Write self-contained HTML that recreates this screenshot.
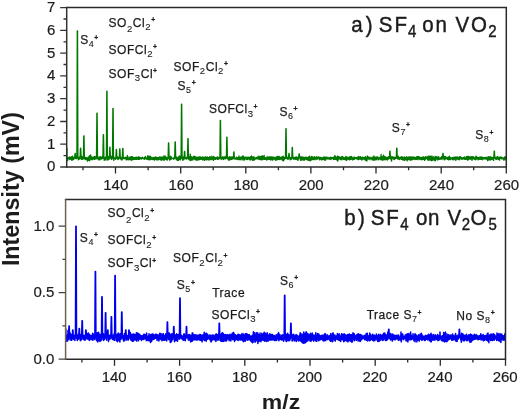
<!DOCTYPE html>
<html><head><meta charset="utf-8"><title>SF4 mass spectra</title>
<style>html,body{margin:0;padding:0;background:#fff;}svg{display:block;}text{font-family:"Liberation Sans", Arial, sans-serif;fill:#1c1c1c;}text.c{stroke:#1c1c1c;stroke-width:0.25px;}text.t{stroke:#1c1c1c;stroke-width:0.4px;}text.k{stroke:#1c1c1c;stroke-width:0.2px;}</style></head><body>
<svg width="520" height="411" viewBox="0 0 520 411">
<rect width="520" height="411" fill="#fff"/>
<defs><clipPath id="ca"><rect x="66.7" y="7.6" width="439.6" height="159.4"/></clipPath><clipPath id="cb"><rect x="65.6" y="199.6" width="439.9" height="159.6"/></clipPath></defs>
<polyline clip-path="url(#ca)" fill="none" stroke="#007800" stroke-width="1.25" stroke-linejoin="round" points="66.90,147.64 67.00,159.28 67.30,156.99 67.60,160.60 67.90,157.58 68.20,158.68 68.50,157.63 68.80,158.21 69.10,157.13 69.40,159.71 69.70,156.98 70.00,159.36 70.30,157.59 70.60,158.59 70.90,157.15 71.20,159.36 71.50,156.93 71.80,160.46 72.10,156.36 72.40,159.85 72.70,156.24 73.00,159.16 73.30,157.70 73.60,159.60 73.90,157.84 74.20,158.56 74.50,157.00 74.65,158.30 75.05,153.34 75.35,153.34 75.75,158.30 76.00,158.60 76.30,157.52 76.60,158.73 76.85,158.30 77.25,30.83 77.55,30.83 77.95,158.30 78.10,157.90 78.40,159.83 78.70,158.00 79.00,158.81 79.30,157.06 79.60,159.16 79.90,156.77 80.05,158.30 80.45,148.10 80.75,148.10 81.15,158.30 81.40,159.45 81.70,156.01 82.00,159.54 82.30,156.84 82.60,158.76 82.90,156.84 83.20,159.14 83.35,158.30 83.75,135.80 84.05,135.80 84.45,158.30 84.70,157.91 85.00,159.26 85.30,157.37 85.60,159.58 85.90,157.65 86.20,159.71 86.50,157.69 86.80,159.13 87.10,157.96 87.40,161.14 87.70,157.58 88.00,160.40 88.30,156.79 88.60,160.43 88.90,156.81 89.20,159.10 89.50,155.66 89.80,160.86 90.10,156.22 90.40,159.27 90.70,154.91 91.00,158.48 91.30,156.72 91.60,159.36 91.90,157.80 92.20,159.92 92.50,157.19 92.80,159.06 93.10,157.25 93.40,159.16 93.70,157.19 94.00,158.60 94.30,156.51 94.60,159.47 94.90,156.48 95.20,159.04 95.50,157.22 95.80,158.43 96.10,156.88 96.40,158.79 96.45,158.30 96.85,113.03 97.15,113.03 97.55,158.30 97.90,156.84 98.20,159.80 98.50,157.29 98.80,159.66 99.10,157.14 99.40,159.41 99.70,157.16 100.00,159.98 100.30,156.65 100.60,158.97 100.90,156.51 101.20,158.15 101.50,157.54 101.80,159.22 102.10,157.87 102.40,157.87 102.70,156.07 102.85,158.30 103.25,134.66 103.55,134.66 103.95,158.30 104.20,160.44 104.50,157.60 104.80,159.04 105.10,157.37 105.40,159.45 105.70,157.01 106.00,160.15 106.30,156.89 106.35,158.30 106.75,91.17 107.05,91.17 107.45,158.30 107.80,160.21 108.10,156.99 108.40,159.24 108.70,156.52 109.00,159.42 109.30,157.16 109.35,158.30 109.75,147.19 110.05,147.19 110.45,158.30 110.80,158.49 111.10,157.51 111.40,159.50 111.70,156.15 112.00,159.25 112.30,156.13 112.45,158.30 112.85,108.25 113.15,108.25 113.55,158.30 113.80,160.36 114.10,157.24 114.40,158.45 114.70,158.53 115.00,158.61 115.30,157.82 115.60,159.46 115.85,158.30 116.25,149.47 116.55,149.47 116.95,158.30 117.10,157.50 117.40,158.96 117.70,156.80 118.00,159.51 118.30,157.32 118.60,159.20 118.90,157.58 119.20,158.76 119.25,158.30 119.65,148.78 119.95,148.78 120.35,158.30 120.70,158.05 121.00,159.60 121.30,157.40 121.60,159.85 121.90,157.67 122.20,159.93 122.25,158.30 122.65,148.33 122.95,148.33 123.35,158.30 123.70,157.57 124.00,158.95 124.30,157.61 124.60,158.32 124.90,157.56 125.20,158.82 125.50,157.09 125.80,158.01 126.10,157.57 126.40,159.82 126.70,157.37 127.00,159.73 127.30,155.38 127.60,159.61 127.90,157.90 128.20,159.61 128.50,158.20 128.80,159.87 129.10,156.75 129.40,159.41 129.70,157.58 130.00,159.60 130.30,157.51 130.60,158.89 130.90,156.65 131.20,160.28 131.50,157.34 131.80,160.22 132.10,156.31 132.40,159.42 132.70,157.05 133.00,159.68 133.30,157.48 133.60,159.02 133.90,157.58 134.20,159.46 134.50,157.88 134.80,159.29 135.10,157.34 135.40,159.36 135.70,157.39 136.00,159.04 136.30,157.79 136.60,159.35 136.90,156.98 137.20,158.97 137.50,157.95 137.80,159.25 138.10,157.41 138.40,159.49 138.70,156.51 139.00,159.17 139.30,157.89 139.60,159.42 139.90,157.38 140.20,158.68 140.50,157.63 140.80,158.76 141.10,157.84 141.40,159.11 141.70,157.97 142.00,158.72 142.30,157.23 142.60,158.42 142.90,158.14 143.20,158.80 143.50,158.22 143.80,158.60 144.10,157.55 144.40,159.45 144.70,158.03 145.00,158.42 145.30,156.26 145.60,158.69 145.90,157.03 146.20,158.84 146.50,158.24 146.80,159.40 147.10,158.18 147.40,158.95 147.70,155.70 148.00,159.54 148.30,157.38 148.60,159.62 148.90,156.19 149.20,159.97 149.50,156.49 149.80,159.05 150.10,156.45 150.40,159.70 150.70,156.36 151.00,159.49 151.30,157.65 151.60,158.71 151.90,157.65 152.20,159.67 152.50,158.03 152.80,159.00 153.10,157.37 153.40,159.66 153.70,157.26 154.00,158.50 154.30,158.02 154.60,160.07 154.90,157.31 155.20,159.37 155.50,156.76 155.80,157.29 156.10,157.35 156.40,159.66 156.70,157.46 157.00,160.04 157.30,158.41 157.60,159.53 157.90,157.28 158.20,159.83 158.50,157.38 158.80,159.35 159.10,157.37 159.40,159.02 159.70,156.81 160.00,159.67 160.30,157.51 160.60,159.94 160.90,156.80 161.20,159.22 161.50,157.33 161.80,160.26 162.10,157.42 162.40,158.62 162.70,156.78 163.00,159.61 163.30,157.81 163.60,159.90 163.90,155.87 164.20,160.42 164.50,157.87 164.80,158.94 165.10,155.98 165.40,159.15 165.70,157.43 166.00,159.37 166.30,157.07 166.60,159.62 166.90,157.73 167.20,160.19 167.50,157.81 167.80,159.43 168.05,158.30 168.45,142.86 168.75,142.86 169.15,158.30 169.30,157.47 169.60,160.16 169.90,157.11 170.20,158.84 170.50,156.11 170.80,159.52 171.10,156.58 171.40,159.24 171.70,157.79 172.00,158.71 172.30,158.28 172.60,158.43 172.90,158.06 173.20,158.66 173.50,157.85 173.80,159.43 174.10,157.52 174.40,158.38 174.65,158.30 175.05,141.95 175.35,141.95 175.75,158.30 175.90,157.30 176.20,159.59 176.50,157.18 176.80,158.91 177.10,157.04 177.40,160.42 177.70,157.75 178.00,158.41 178.30,157.56 178.60,160.36 178.90,156.40 179.20,159.48 179.50,155.80 179.80,159.17 180.10,156.74 180.40,159.97 180.70,156.15 181.00,159.01 181.05,158.30 181.45,104.15 181.75,104.15 182.15,158.30 182.50,156.88 182.80,160.27 183.10,157.31 183.40,159.90 183.70,156.63 184.00,159.53 184.05,158.30 184.45,151.29 184.75,151.29 185.15,158.30 185.50,157.81 185.80,158.86 186.10,157.67 186.40,159.21 186.70,157.49 187.00,158.88 187.30,156.81 187.45,158.30 187.85,138.54 188.15,138.54 188.55,158.30 188.80,159.55 189.10,156.59 189.40,158.94 189.70,156.65 190.00,160.33 190.30,154.11 190.60,160.57 190.90,157.05 191.20,159.49 191.50,156.57 191.80,160.25 192.10,157.42 192.40,159.95 192.70,157.44 193.00,159.81 193.30,156.43 193.60,158.79 193.90,156.77 194.20,158.72 194.50,156.16 194.80,159.51 195.10,156.83 195.40,159.89 195.70,156.79 196.00,159.93 196.30,157.70 196.60,159.35 196.90,157.11 197.20,160.41 197.50,157.46 197.80,159.70 198.10,156.98 198.40,159.71 198.70,158.04 199.00,159.91 199.30,157.38 199.60,159.52 199.90,156.31 200.20,158.40 200.50,157.59 200.80,159.36 201.10,157.12 201.40,159.37 201.70,157.79 202.00,158.89 202.30,157.18 202.60,159.95 202.90,156.90 203.20,159.52 203.50,157.30 203.80,159.65 204.10,157.35 204.40,160.39 204.70,157.53 205.00,159.63 205.30,156.70 205.60,159.15 205.90,157.39 206.20,159.97 206.50,157.32 206.80,159.86 207.10,156.65 207.40,159.60 207.70,157.66 208.00,158.49 208.30,157.56 208.60,159.93 208.90,157.37 209.20,159.69 209.50,156.62 209.80,160.00 210.10,156.73 210.40,159.35 210.70,157.63 211.00,159.17 211.30,157.46 211.60,159.69 211.90,156.09 212.20,159.35 212.50,157.40 212.80,159.20 213.10,156.96 213.40,160.40 213.70,156.36 214.00,159.45 214.30,157.77 214.60,157.38 214.90,157.36 215.20,159.33 215.50,158.22 215.80,159.29 216.10,157.37 216.40,158.72 216.70,158.31 217.00,158.70 217.30,156.94 217.60,159.50 217.90,156.99 218.20,159.42 218.50,157.59 218.80,159.00 219.10,157.55 219.40,158.73 219.70,157.63 219.85,158.30 220.25,120.32 220.55,120.32 220.95,158.30 221.20,159.57 221.50,157.27 221.80,158.48 222.10,157.35 222.40,158.70 222.70,156.69 223.00,159.16 223.30,157.00 223.60,159.52 223.90,157.31 224.20,157.86 224.50,157.13 224.80,158.65 225.10,156.48 225.40,158.97 225.70,158.07 226.00,158.62 226.30,157.66 226.35,158.30 226.75,137.17 227.05,137.17 227.45,158.30 227.80,159.09 228.10,157.53 228.40,159.92 228.70,157.31 229.00,160.14 229.30,156.73 229.60,160.03 229.90,157.05 230.20,159.35 230.50,157.18 230.80,159.59 231.10,156.94 231.40,159.35 231.70,157.67 232.00,159.32 232.30,156.78 232.60,158.78 232.90,157.55 233.20,158.92 233.35,158.30 233.75,151.97 234.05,151.97 234.45,158.30 234.70,158.14 235.00,159.26 235.30,157.99 235.60,159.10 235.90,158.07 236.20,159.14 236.50,157.22 236.80,159.19 237.10,157.70 237.40,158.99 237.70,157.42 238.00,159.59 238.30,158.05 238.60,159.65 238.90,155.95 239.20,158.87 239.50,158.11 239.80,159.70 240.10,157.23 240.40,159.48 240.70,157.93 241.00,159.82 241.30,156.81 241.60,158.93 241.90,157.24 242.20,158.60 242.50,156.01 242.80,159.84 243.10,155.99 243.40,159.86 243.70,156.81 244.00,160.05 244.30,157.09 244.60,159.92 244.90,157.35 245.20,158.94 245.50,157.50 245.80,158.62 246.10,157.00 246.40,159.47 246.70,157.59 247.00,159.53 247.30,157.21 247.60,159.50 247.90,157.82 248.20,158.67 248.50,157.15 248.80,159.02 249.10,157.27 249.40,159.36 249.70,157.72 250.00,160.04 250.30,156.71 250.60,159.94 250.90,156.97 251.20,158.90 251.50,155.97 251.80,159.21 252.10,158.04 252.40,160.29 252.70,156.86 253.00,158.94 253.30,157.24 253.60,160.27 253.90,156.68 254.20,159.42 254.50,157.96 254.80,159.95 255.10,158.18 255.40,158.89 255.70,157.77 256.00,158.79 256.30,157.47 256.60,158.75 256.90,158.03 257.20,158.90 257.50,157.11 257.80,158.88 258.10,156.10 258.40,159.05 258.70,156.82 259.00,159.11 259.30,156.94 259.60,159.51 259.90,156.08 260.20,159.15 260.50,156.65 260.80,159.76 261.10,157.11 261.40,158.54 261.70,156.16 262.00,159.90 262.30,155.74 262.60,159.75 262.90,157.37 263.20,159.35 263.50,156.50 263.80,158.93 264.10,155.26 264.40,159.32 264.70,157.90 265.00,159.32 265.30,157.50 265.60,158.95 265.90,158.54 266.20,159.49 266.50,157.91 266.80,160.12 267.10,156.51 267.40,159.34 267.70,157.12 268.00,159.41 268.30,157.88 268.60,158.98 268.90,156.76 269.20,159.43 269.50,156.79 269.80,158.56 270.10,156.95 270.40,160.04 270.70,156.76 271.00,158.11 271.30,157.19 271.60,159.79 271.90,156.63 272.20,158.44 272.50,157.55 272.80,160.29 273.10,157.41 273.40,159.32 273.70,156.97 274.00,158.94 274.30,158.70 274.60,159.22 274.90,157.61 275.20,159.70 275.50,157.32 275.80,160.42 276.10,157.03 276.40,159.96 276.70,156.91 277.00,159.69 277.30,156.60 277.60,159.66 277.90,156.01 278.20,159.49 278.50,157.46 278.80,159.44 279.10,156.34 279.40,158.87 279.70,157.11 280.00,159.55 280.30,157.66 280.60,159.15 280.90,157.06 281.20,158.75 281.50,157.32 281.80,159.42 282.10,156.76 282.40,160.49 282.70,156.63 283.00,158.97 283.30,156.07 283.60,160.93 283.90,158.03 284.20,159.22 284.50,157.48 284.80,159.25 285.10,157.41 285.40,158.52 285.45,158.30 285.85,128.74 286.15,128.74 286.55,158.30 286.90,157.96 287.20,158.87 287.50,157.29 287.80,159.28 288.10,156.88 288.40,159.19 288.45,158.30 288.85,153.34 289.15,153.34 289.55,158.30 289.90,157.17 290.20,159.98 290.50,157.57 290.80,159.47 291.10,157.99 291.40,159.28 291.70,157.71 291.75,158.30 292.15,147.42 292.45,147.42 292.85,158.30 293.20,159.07 293.50,157.44 293.80,159.17 294.10,157.72 294.40,158.86 294.70,157.70 295.00,159.39 295.30,157.12 295.60,159.21 295.90,157.20 296.20,159.32 296.50,156.88 296.80,158.51 297.10,157.63 297.40,159.88 297.70,157.90 298.00,160.46 298.30,156.53 298.60,158.90 298.65,158.30 299.05,153.79 299.35,153.79 299.75,158.30 300.10,156.44 300.40,160.12 300.70,157.71 301.00,160.36 301.30,157.45 301.60,158.73 301.90,156.28 302.20,159.79 302.50,157.46 302.80,159.89 303.10,158.10 303.40,158.95 303.70,157.17 304.00,160.43 304.30,158.15 304.60,160.00 304.90,157.49 305.20,158.35 305.50,157.26 305.80,159.04 306.10,157.69 306.40,159.36 306.70,157.02 307.00,159.91 307.30,157.70 307.60,159.95 307.90,157.40 308.20,160.10 308.50,156.99 308.80,160.42 309.10,157.77 309.40,159.10 309.70,156.03 310.00,160.81 310.30,157.57 310.60,160.69 310.90,157.77 311.20,159.56 311.50,156.44 311.80,159.90 312.10,156.96 312.40,159.37 312.70,156.95 313.00,159.12 313.30,157.64 313.60,159.65 313.90,157.16 314.20,159.69 314.50,156.68 314.80,159.14 315.10,157.18 315.40,158.95 315.70,157.78 316.00,159.77 316.30,157.29 316.60,159.12 316.90,156.34 317.20,158.93 317.50,158.02 317.80,159.07 318.10,157.30 318.40,158.75 318.70,156.98 319.00,158.62 319.30,157.24 319.60,159.99 319.90,157.27 320.20,159.29 320.50,157.33 320.80,159.07 321.10,157.29 321.40,159.76 321.70,157.77 322.00,160.03 322.30,158.01 322.60,158.86 322.90,157.46 323.20,159.34 323.50,157.67 323.80,158.99 324.10,156.65 324.40,160.19 324.70,157.57 325.00,159.92 325.30,157.28 325.60,160.12 325.90,157.10 326.20,159.03 326.50,157.82 326.80,158.54 327.10,156.99 327.40,158.81 327.70,157.81 328.00,159.13 328.30,157.93 328.60,158.84 328.90,157.42 329.20,158.18 329.50,157.71 329.80,159.27 330.10,158.33 330.40,158.67 330.70,157.02 331.00,159.63 331.30,158.51 331.60,158.60 331.90,157.38 332.20,158.43 332.50,157.84 332.80,158.49 333.10,157.40 333.40,159.68 333.70,157.65 334.00,159.00 334.30,156.37 334.60,159.48 334.90,155.49 335.20,158.63 335.50,156.63 335.80,159.38 336.10,157.40 336.40,159.90 336.70,158.11 337.00,159.02 337.30,156.19 337.60,161.17 337.90,156.24 338.20,160.06 338.50,156.92 338.80,158.82 339.10,156.70 339.40,158.32 339.70,158.05 340.00,159.27 340.30,157.12 340.60,159.69 340.90,157.98 341.20,158.62 341.50,156.97 341.80,159.98 342.10,156.54 342.40,158.98 342.70,156.27 343.00,158.95 343.30,157.28 343.60,159.42 343.90,158.19 344.20,159.49 344.50,157.62 344.80,159.42 345.10,157.53 345.40,159.80 345.70,156.33 346.00,159.75 346.30,157.55 346.60,160.48 346.90,156.93 347.20,158.85 347.50,157.46 347.80,159.26 348.10,157.47 348.40,159.22 348.70,157.47 349.00,159.73 349.30,157.31 349.60,159.92 349.90,156.55 350.20,158.97 350.50,157.56 350.80,159.46 351.10,156.40 351.40,159.17 351.70,156.59 352.00,159.10 352.30,157.41 352.60,160.01 352.90,157.97 353.20,159.62 353.50,158.00 353.80,159.45 354.10,156.79 354.40,159.44 354.70,158.13 355.00,158.98 355.30,157.50 355.60,158.24 355.90,157.60 356.20,158.50 356.50,157.54 356.80,158.93 357.10,157.36 357.40,159.26 357.70,157.32 358.00,159.03 358.30,156.32 358.60,159.75 358.90,157.24 359.20,159.28 359.50,156.79 359.80,158.86 360.10,157.11 360.40,159.01 360.70,156.54 361.00,159.38 361.30,157.54 361.60,160.01 361.90,158.24 362.20,159.87 362.50,157.00 362.80,158.86 363.10,157.57 363.40,159.10 363.70,157.48 364.00,157.63 364.30,157.67 364.60,159.38 364.90,157.06 365.20,160.20 365.50,156.60 365.80,159.57 366.10,157.72 366.40,160.95 366.70,158.09 367.00,160.76 367.30,155.80 367.60,158.35 367.90,156.65 368.20,158.81 368.50,157.05 368.80,159.16 369.10,157.93 369.40,158.57 369.70,157.15 370.00,159.79 370.30,157.71 370.60,158.03 370.90,158.00 371.20,158.33 371.50,157.79 371.80,159.63 372.10,157.06 372.40,159.61 372.70,157.38 373.00,160.30 373.30,156.92 373.60,159.45 373.90,155.87 374.20,160.18 374.50,157.62 374.80,159.85 375.10,157.18 375.40,159.88 375.70,157.32 376.00,158.86 376.30,156.78 376.60,159.79 376.90,158.03 377.20,158.69 377.50,156.94 377.80,158.80 378.10,157.22 378.40,159.82 378.70,158.59 379.00,158.66 379.30,157.80 379.60,158.89 379.90,157.09 380.20,159.63 380.50,157.65 380.80,158.90 381.10,154.43 381.40,159.98 381.70,156.96 382.00,158.97 382.30,157.24 382.60,160.18 382.90,156.01 383.20,159.85 383.50,155.05 383.80,159.77 384.10,157.48 384.40,159.17 384.70,156.49 385.00,159.95 385.30,157.42 385.60,158.33 385.90,157.00 386.20,159.43 386.50,157.33 386.80,159.65 387.10,157.57 387.40,160.05 387.70,157.29 388.00,159.34 388.30,156.62 388.60,158.87 388.90,157.72 389.20,158.64 389.35,158.30 389.75,151.06 390.05,151.06 390.45,158.30 390.70,156.69 391.00,159.93 391.30,157.84 391.60,161.22 391.90,156.42 392.20,158.66 392.50,157.17 392.80,158.72 393.10,156.82 393.40,158.61 393.70,157.53 394.00,159.34 394.30,157.47 394.60,159.61 394.90,157.21 395.20,158.61 395.50,157.52 395.80,158.39 396.10,157.68 396.25,158.30 396.65,148.10 396.95,148.10 397.35,158.30 397.60,158.92 397.90,156.63 398.20,159.04 398.50,156.13 398.80,158.74 399.10,157.91 399.40,159.59 399.70,157.61 400.00,158.73 400.30,157.29 400.60,158.65 400.90,157.25 401.20,159.45 401.50,156.73 401.80,157.88 402.10,157.09 402.40,159.83 402.70,156.87 403.00,159.70 403.30,157.96 403.60,159.94 403.90,157.33 404.20,160.52 404.50,156.85 404.80,160.20 405.10,157.58 405.40,159.75 405.70,157.39 406.00,159.33 406.30,157.13 406.60,160.05 406.90,156.66 407.20,160.82 407.50,157.57 407.80,159.11 408.10,157.52 408.40,159.73 408.70,156.85 409.00,159.44 409.30,156.96 409.60,159.78 409.90,157.39 410.20,159.38 410.50,156.95 410.80,160.42 411.10,156.76 411.40,158.51 411.70,157.20 412.00,159.74 412.30,157.35 412.60,159.58 412.90,156.86 413.20,159.09 413.50,157.75 413.80,159.14 414.10,156.88 414.40,159.11 414.70,157.73 415.00,159.66 415.30,157.50 415.60,159.24 415.90,158.00 416.20,159.35 416.50,156.97 416.80,158.90 417.10,156.62 417.40,159.57 417.70,156.97 418.00,158.91 418.30,156.62 418.60,158.98 418.90,156.73 419.20,159.56 419.50,157.01 419.80,158.69 420.10,157.34 420.40,159.08 420.70,157.81 421.00,159.55 421.30,157.32 421.60,159.39 421.90,158.08 422.20,159.85 422.50,157.14 422.80,158.78 423.10,156.95 423.40,159.41 423.70,156.90 424.00,158.86 424.30,158.00 424.60,160.36 424.90,157.36 425.20,159.44 425.50,156.70 425.80,158.78 426.10,156.57 426.40,158.67 426.70,157.71 427.00,158.76 427.30,157.14 427.60,159.60 427.90,156.31 428.20,160.42 428.50,156.18 428.80,157.34 429.10,157.65 429.40,159.57 429.70,156.16 430.00,160.24 430.30,158.23 430.60,160.13 430.90,156.17 431.20,160.54 431.50,156.18 431.80,160.55 432.10,156.07 432.40,159.61 432.70,157.80 433.00,160.26 433.30,157.60 433.60,159.13 433.90,156.44 434.20,159.67 434.50,157.27 434.80,160.59 435.10,157.54 435.40,160.77 435.70,156.34 436.00,159.59 436.30,157.21 436.60,159.00 436.90,156.61 437.20,158.83 437.50,157.95 437.80,160.23 438.10,157.18 438.40,159.39 438.70,156.60 439.00,158.56 439.30,158.09 439.60,159.33 439.90,158.04 440.20,159.00 440.50,157.57 440.80,159.19 441.10,157.63 441.40,158.51 441.70,156.31 442.00,159.56 442.30,158.10 442.45,158.30 442.85,153.34 443.15,153.34 443.55,158.30 443.80,159.17 444.10,156.74 444.40,159.97 444.70,156.30 445.00,159.64 445.30,157.71 445.60,158.57 445.90,156.56 446.20,158.20 446.50,158.55 446.80,158.24 447.10,157.76 447.40,159.48 447.70,157.45 448.00,159.29 448.30,156.77 448.60,159.82 448.90,157.73 449.20,159.51 449.50,156.23 449.80,159.34 450.10,157.71 450.40,159.67 450.70,157.52 451.00,158.65 451.30,157.95 451.60,158.11 451.90,157.88 452.20,159.72 452.50,157.55 452.80,158.84 453.10,157.36 453.40,159.89 453.70,157.44 454.00,159.56 454.30,157.76 454.60,159.20 454.90,156.79 455.20,158.31 455.50,157.13 455.80,160.32 456.10,157.45 456.40,158.92 456.70,157.07 457.00,159.14 457.30,156.97 457.60,158.89 457.90,157.33 458.20,159.56 458.50,157.32 458.80,158.92 459.10,157.14 459.40,159.78 459.70,156.66 460.00,158.53 460.30,156.72 460.60,158.43 460.90,157.53 461.20,159.32 461.50,157.31 461.80,159.08 462.10,158.02 462.40,159.19 462.70,157.83 463.00,159.02 463.30,157.36 463.60,158.44 463.90,157.93 464.20,159.07 464.50,156.99 464.80,159.34 465.10,157.89 465.40,159.14 465.70,157.55 466.00,159.49 466.30,156.51 466.60,159.18 466.90,156.55 467.20,159.34 467.50,156.56 467.80,160.26 468.10,156.13 468.40,159.71 468.70,156.71 469.00,159.08 469.30,157.06 469.60,159.06 469.90,156.88 470.20,158.27 470.50,156.89 470.80,159.26 471.10,157.03 471.40,158.48 471.70,156.55 472.00,160.33 472.30,157.24 472.60,159.09 472.90,156.67 473.20,158.48 473.50,156.69 473.80,158.82 474.10,157.26 474.40,159.28 474.70,158.37 475.00,158.90 475.30,157.59 475.60,159.98 475.90,156.21 476.20,159.10 476.50,156.42 476.80,158.94 477.10,157.06 477.40,158.68 477.70,157.53 478.00,159.88 478.30,157.40 478.60,158.31 478.90,157.82 479.20,159.43 479.50,157.10 479.80,159.05 480.10,157.22 480.40,159.21 480.70,156.79 481.00,159.31 481.30,157.48 481.60,159.37 481.90,156.77 482.20,159.81 482.50,157.31 482.80,158.79 483.10,158.17 483.40,158.62 483.70,157.50 484.00,159.10 484.30,157.91 484.60,158.62 484.90,157.42 485.20,158.76 485.50,158.03 485.80,159.07 486.10,157.08 486.40,158.99 486.70,157.95 487.00,159.35 487.30,157.90 487.60,160.72 487.90,156.79 488.20,160.16 488.50,156.65 488.80,159.75 489.10,158.00 489.40,159.94 489.70,156.95 490.00,159.52 490.30,156.66 490.60,160.01 490.90,157.80 491.20,159.56 491.50,157.15 491.80,159.27 492.10,157.28 492.40,158.88 492.70,157.55 493.00,159.68 493.30,157.25 493.60,160.40 493.75,158.30 494.15,151.06 494.45,151.06 494.85,158.30 495.10,157.08 495.40,158.67 495.70,157.50 496.00,159.59 496.30,158.37 496.60,159.24 496.90,156.77 497.20,158.87 497.50,156.33 497.80,159.04 498.10,157.45 498.40,159.54 498.70,157.43 499.00,159.32 499.30,157.15 499.60,160.11 499.90,157.29 500.20,158.76 500.50,156.80 500.80,158.45 501.10,158.02 501.40,157.92 501.70,157.16 502.00,159.15 502.30,157.57 502.60,158.64 502.90,158.13 503.20,158.89 503.50,157.94 503.80,160.07 504.10,157.65 504.40,159.92 504.70,156.87 505.00,158.88 505.30,156.72 505.60,159.03 505.90,157.93 506.20,160.21 506.50,157.96"/>
<polyline clip-path="url(#cb)" fill="none" stroke="#0000f0" stroke-width="1.5" stroke-linejoin="round" points="65.80,328.61 65.90,338.77 66.20,335.11 66.50,341.18 66.80,336.50 67.10,340.27 67.40,334.90 67.70,340.88 68.00,330.47 68.30,339.50 68.55,337.50 68.95,325.95 69.25,325.95 69.65,337.50 69.80,335.11 70.10,339.87 70.40,333.29 70.70,339.25 71.00,334.72 71.30,340.34 71.60,335.10 71.90,339.88 72.20,336.06 72.25,337.50 72.65,329.94 72.95,329.94 73.35,337.50 73.70,339.41 74.00,336.09 74.30,338.55 74.60,335.23 74.90,340.39 75.20,334.90 75.45,337.50 75.85,226.20 76.15,226.20 76.55,337.50 76.70,338.32 77.00,335.40 77.30,340.51 77.60,336.01 77.90,339.21 78.20,334.26 78.50,339.23 78.75,337.50 79.15,328.61 79.45,328.61 79.85,337.50 80.00,334.76 80.30,340.77 80.60,334.72 80.90,340.31 81.20,335.06 81.50,339.48 81.65,337.50 82.05,320.63 82.35,320.63 82.75,337.50 83.00,335.33 83.30,339.41 83.60,335.38 83.90,339.40 84.20,335.62 84.50,340.02 84.80,335.59 85.10,340.15 85.35,337.50 85.75,329.94 86.05,329.94 86.45,337.50 86.60,334.50 86.90,338.97 87.20,333.56 87.50,339.01 87.80,334.30 88.10,339.30 88.40,332.92 88.70,339.31 89.00,335.86 89.30,340.45 89.60,334.30 89.90,338.47 90.20,335.58 90.50,339.49 90.80,336.00 91.10,339.00 91.40,335.41 91.70,338.78 92.00,336.76 92.30,340.10 92.60,333.21 92.90,340.18 93.20,333.73 93.50,338.84 93.80,334.38 94.10,338.36 94.40,335.90 94.70,339.38 94.85,337.50 95.25,271.42 95.55,271.42 95.95,337.50 96.20,336.07 96.50,340.62 96.80,335.26 97.10,340.75 97.40,332.79 97.70,342.03 98.00,335.39 98.30,340.06 98.60,332.18 98.90,340.79 99.20,336.44 99.50,340.86 99.80,334.29 100.10,341.38 100.40,335.98 100.70,339.38 101.00,334.30 101.30,340.33 101.45,337.50 101.85,296.69 102.15,296.69 102.55,337.50 102.80,334.02 103.10,339.75 103.40,333.66 103.70,340.47 104.00,334.49 104.30,339.47 104.60,335.13 104.90,339.01 105.05,337.50 105.45,312.65 105.75,312.65 106.15,337.50 106.40,333.36 106.70,340.18 107.00,336.13 107.25,337.50 107.65,329.94 107.95,329.94 108.35,337.50 108.50,341.40 108.80,335.72 109.10,339.79 109.40,335.30 109.70,339.22 110.00,335.80 110.30,338.66 110.60,334.82 110.85,337.50 111.25,316.64 111.55,316.64 111.95,337.50 112.10,339.01 112.40,336.55 112.70,339.52 113.00,335.20 113.30,339.79 113.60,335.94 113.90,338.45 114.20,333.48 114.50,340.37 114.55,337.50 114.95,275.41 115.25,275.41 115.65,337.50 116.00,335.02 116.30,340.58 116.60,336.26 116.90,341.19 117.20,334.18 117.50,341.68 117.80,333.78 118.10,339.75 118.40,333.11 118.70,340.33 119.00,334.06 119.30,340.98 119.60,336.19 119.90,341.94 120.20,333.68 120.50,339.32 120.80,334.91 121.10,339.29 121.25,337.50 121.65,311.99 121.95,311.99 122.35,337.50 122.60,335.30 122.90,338.84 123.20,336.45 123.50,340.95 123.80,335.50 124.10,340.37 124.40,333.61 124.70,340.78 125.00,336.61 125.25,337.50 125.65,329.94 125.95,329.94 126.35,337.50 126.50,340.12 126.80,335.48 127.10,339.17 127.40,335.50 127.70,337.11 128.00,335.78 128.30,340.10 128.45,337.50 128.85,329.94 129.15,329.94 129.55,337.50 129.80,334.84 130.10,338.79 130.40,332.50 130.70,339.79 131.00,335.26 131.30,340.49 131.60,334.44 131.90,339.82 132.20,335.82 132.50,341.35 132.80,334.35 133.10,338.76 133.40,333.94 133.70,340.93 134.00,334.69 134.30,338.66 134.60,334.22 134.90,339.62 135.20,334.86 135.50,339.98 135.80,336.51 136.10,339.07 136.40,332.80 136.70,341.11 137.00,335.03 137.30,339.59 137.60,333.04 137.90,339.50 138.20,335.08 138.50,340.86 138.80,333.55 139.10,339.23 139.40,334.92 139.70,338.79 140.00,334.63 140.30,338.88 140.60,335.84 140.90,339.36 141.20,335.89 141.50,340.57 141.80,335.87 142.10,339.55 142.40,335.79 142.70,339.37 143.00,335.72 143.30,339.50 143.60,334.42 143.90,338.47 144.20,334.17 144.50,339.03 144.80,336.61 145.10,338.76 145.40,334.64 145.70,338.44 146.00,336.22 146.30,340.62 146.60,333.06 146.90,338.80 147.20,336.17 147.50,340.35 147.80,336.37 148.10,340.75 148.40,336.15 148.70,340.08 149.00,333.72 149.30,340.72 149.60,336.30 149.90,340.17 150.20,334.90 150.50,342.55 150.80,334.65 151.10,341.61 151.40,334.31 151.70,341.33 152.00,335.90 152.30,339.15 152.60,333.88 152.90,339.60 153.20,334.23 153.50,339.20 153.80,335.39 154.10,339.30 154.40,335.16 154.70,338.18 155.00,334.54 155.30,338.19 155.60,334.20 155.90,338.22 156.20,334.19 156.50,337.03 156.80,336.33 157.10,340.48 157.40,334.99 157.70,338.93 158.00,334.43 158.30,339.73 158.60,335.39 158.90,341.06 159.20,336.37 159.50,338.88 159.80,333.37 160.10,338.91 160.40,334.25 160.70,339.31 161.00,333.50 161.30,339.72 161.60,334.88 161.90,340.68 162.20,335.01 162.50,340.15 162.80,334.02 163.10,338.95 163.40,333.87 163.70,340.31 164.00,335.94 164.30,339.58 164.60,335.59 164.90,340.35 165.20,335.18 165.50,339.34 165.80,333.82 166.10,339.16 166.40,334.47 166.70,340.98 166.85,337.50 167.25,321.96 167.55,321.96 167.95,337.50 168.20,335.70 168.50,339.58 168.80,333.31 169.10,339.30 169.40,333.11 169.70,339.89 170.00,334.72 170.30,342.48 170.60,334.62 170.90,339.76 171.20,334.46 171.50,341.68 171.80,333.67 172.10,339.57 172.40,334.46 172.70,339.64 173.00,333.72 173.25,337.50 173.65,326.62 173.95,326.62 174.35,337.50 174.50,341.71 174.80,335.32 175.10,340.43 175.40,335.90 175.70,340.47 176.00,334.46 176.30,340.46 176.60,333.83 176.90,337.07 177.20,336.52 177.50,341.25 177.80,334.68 178.10,338.59 178.40,334.58 178.70,338.63 179.00,335.03 179.30,339.29 179.45,337.50 179.85,298.02 180.15,298.02 180.55,337.50 180.80,335.57 181.10,338.65 181.40,335.19 181.70,338.81 182.00,335.99 182.30,338.71 182.60,336.63 182.90,339.99 183.20,335.79 183.50,340.16 183.80,334.11 184.10,338.91 184.40,334.11 184.70,340.05 185.00,335.36 185.30,340.77 185.60,335.62 185.90,338.36 185.95,337.50 186.35,326.62 186.65,326.62 187.05,337.50 187.40,334.96 187.70,338.23 188.00,336.02 188.30,339.94 188.60,334.74 188.90,339.95 189.20,335.78 189.50,338.75 189.80,334.38 190.10,340.48 190.40,335.87 190.70,341.98 191.00,336.42 191.30,339.13 191.60,335.18 191.90,341.26 192.20,332.97 192.50,340.91 192.80,332.97 193.10,340.03 193.40,336.11 193.70,339.73 194.00,334.66 194.30,339.26 194.60,336.27 194.90,340.01 195.20,334.65 195.50,339.64 195.80,336.50 196.10,339.06 196.40,335.11 196.70,339.91 197.00,336.45 197.30,340.09 197.60,335.28 197.90,338.34 198.20,335.62 198.50,339.00 198.80,335.21 199.10,340.06 199.40,334.44 199.70,339.38 200.00,334.73 200.30,340.27 200.60,334.53 200.90,337.11 201.20,335.23 201.50,340.72 201.80,335.25 202.10,341.85 202.40,335.82 202.70,340.01 203.00,334.77 203.30,338.36 203.60,334.61 203.90,339.69 204.20,332.18 204.50,340.50 204.80,333.43 205.10,340.40 205.40,333.60 205.70,339.57 206.00,335.79 206.30,341.12 206.60,333.32 206.90,338.48 207.20,333.97 207.50,339.34 207.80,336.30 208.10,337.99 208.40,335.94 208.70,338.85 209.00,334.76 209.30,338.73 209.60,335.71 209.90,339.41 210.20,336.85 210.50,340.98 210.80,335.04 211.10,342.06 211.40,335.94 211.70,340.87 212.00,335.45 212.30,338.84 212.60,335.05 212.90,339.76 213.20,335.04 213.50,339.47 213.80,336.68 214.10,339.70 214.40,335.90 214.70,338.61 215.00,334.89 215.30,340.11 215.60,334.60 215.90,341.42 216.20,333.80 216.50,339.68 216.80,334.47 217.10,338.91 217.40,334.59 217.70,340.13 218.00,335.78 218.30,340.06 218.60,335.81 218.75,337.50 219.15,323.29 219.45,323.29 219.85,337.50 220.10,340.48 220.40,337.46 220.70,340.88 221.00,334.78 221.30,341.13 221.60,333.50 221.90,341.27 222.20,332.73 222.50,339.91 222.80,332.93 223.10,341.58 223.40,333.83 223.70,341.37 224.00,336.34 224.30,340.79 224.60,334.70 224.90,339.37 225.20,335.07 225.50,340.52 225.80,334.44 226.10,341.29 226.40,336.20 226.70,340.54 227.00,334.95 227.30,337.65 227.60,334.70 227.90,338.94 228.20,335.68 228.50,338.89 228.80,334.92 229.10,340.77 229.40,334.80 229.70,338.89 230.00,334.27 230.30,340.01 230.60,335.80 230.90,341.05 231.20,334.87 231.50,338.31 231.80,334.07 232.10,338.19 232.40,332.99 232.70,339.63 233.00,334.55 233.30,339.19 233.60,332.56 233.90,338.51 234.20,333.69 234.50,341.49 234.80,334.65 235.10,340.28 235.40,334.83 235.70,339.93 236.00,335.62 236.30,339.17 236.60,335.66 236.90,338.83 237.20,335.18 237.50,339.99 237.80,334.56 238.10,340.38 238.40,334.20 238.70,338.70 239.00,336.31 239.30,339.74 239.60,334.66 239.90,339.18 240.20,335.48 240.50,339.97 240.80,335.10 241.10,339.62 241.40,334.93 241.70,339.93 242.00,333.62 242.30,340.01 242.60,334.88 242.90,340.96 243.20,334.34 243.50,341.71 243.80,333.89 244.10,340.78 244.40,335.27 244.70,340.13 245.00,335.24 245.30,341.33 245.60,333.69 245.90,340.37 246.20,335.91 246.50,338.84 246.80,333.47 247.10,338.57 247.40,335.00 247.70,340.24 248.00,334.66 248.30,339.69 248.60,334.73 248.90,336.59 249.20,334.61 249.50,339.61 249.80,336.94 250.10,340.29 250.40,335.92 250.70,341.06 251.00,336.82 251.30,341.55 251.60,335.93 251.90,342.12 252.20,335.25 252.50,342.68 252.80,335.28 253.10,342.43 253.40,331.80 253.70,339.47 254.00,333.86 254.30,338.73 254.60,332.87 254.90,341.90 255.20,335.70 255.50,341.99 255.80,334.66 256.10,339.77 256.40,332.69 256.70,340.44 257.00,335.46 257.30,339.95 257.60,332.79 257.90,343.48 258.20,334.72 258.50,340.50 258.80,334.56 259.10,341.41 259.40,336.39 259.70,340.79 260.00,333.04 260.30,339.83 260.60,334.96 260.90,341.76 261.20,334.91 261.50,339.79 261.80,333.30 262.10,340.17 262.40,334.18 262.70,339.97 263.00,333.93 263.30,339.57 263.60,333.13 263.90,340.35 264.20,332.21 264.50,341.26 264.80,333.09 265.10,340.30 265.40,333.37 265.70,339.82 266.00,333.65 266.30,341.38 266.60,335.63 266.90,340.95 267.20,332.83 267.50,339.70 267.80,334.83 268.10,341.09 268.40,335.17 268.70,338.66 269.00,334.93 269.30,339.77 269.60,333.85 269.90,340.31 270.20,334.66 270.50,339.92 270.80,334.30 271.10,340.05 271.40,336.26 271.70,339.43 272.00,334.44 272.30,340.03 272.60,334.47 272.90,338.74 273.20,335.44 273.50,339.69 273.80,337.58 274.10,340.07 274.40,335.42 274.70,340.40 275.00,336.36 275.30,340.57 275.60,336.11 275.90,338.75 276.20,334.77 276.50,340.51 276.80,336.17 277.10,338.55 277.40,334.91 277.70,338.83 278.00,333.57 278.30,339.85 278.60,332.47 278.90,340.71 279.20,334.61 279.50,339.54 279.80,334.39 280.10,339.14 280.40,335.95 280.70,338.58 281.00,336.93 281.30,339.91 281.60,335.29 281.90,339.72 282.20,337.07 282.50,339.90 282.80,334.77 283.10,339.45 283.40,335.19 283.70,341.32 284.00,336.26 284.15,337.50 284.55,295.36 284.85,295.36 285.25,337.50 285.50,339.94 285.80,333.88 286.10,341.22 286.40,334.50 286.70,341.55 287.00,334.82 287.30,340.10 287.60,333.33 287.90,339.51 288.20,334.33 288.50,340.84 288.80,335.62 289.10,339.01 289.40,335.02 289.70,340.61 290.00,336.52 290.30,338.94 290.35,337.50 290.75,323.29 291.05,323.29 291.45,337.50 291.80,334.20 292.10,341.05 292.40,334.79 292.70,340.78 293.00,336.06 293.30,339.18 293.60,334.19 293.90,339.34 294.20,335.36 294.50,340.91 294.80,335.98 295.10,339.11 295.40,335.82 295.70,340.02 296.00,334.62 296.30,341.56 296.60,334.94 296.90,339.49 297.20,335.35 297.50,338.56 297.80,336.23 298.10,340.60 298.40,336.20 298.70,340.93 299.00,335.96 299.30,340.54 299.60,335.12 299.90,340.52 300.20,332.64 300.50,339.90 300.80,333.53 301.10,341.58 301.40,334.10 301.70,341.72 302.00,334.68 302.30,342.72 302.60,334.80 302.90,340.08 303.20,333.71 303.50,343.29 303.80,331.98 304.10,341.47 304.40,334.64 304.70,342.89 305.00,333.63 305.30,342.72 305.60,332.79 305.90,341.78 306.20,331.82 306.50,341.71 306.80,332.85 307.10,340.92 307.40,335.97 307.70,340.90 308.00,333.72 308.30,339.87 308.60,336.05 308.90,339.73 309.20,334.65 309.50,338.84 309.80,336.62 310.10,341.13 310.40,333.23 310.70,340.80 311.00,334.24 311.30,340.99 311.60,335.64 311.90,340.03 312.20,332.90 312.50,338.97 312.80,336.14 313.10,340.00 313.40,334.95 313.70,341.24 314.00,334.91 314.30,339.46 314.60,335.53 314.90,338.95 315.20,336.35 315.50,340.73 315.80,332.64 316.10,339.15 316.40,336.01 316.70,341.37 317.00,335.49 317.30,338.91 317.60,333.57 317.90,339.19 318.20,335.63 318.50,340.74 318.80,334.08 319.10,340.43 319.40,334.95 319.70,338.66 320.00,336.87 320.30,339.64 320.60,335.81 320.90,339.45 321.20,336.38 321.50,339.12 321.80,335.30 322.10,339.46 322.40,336.01 322.70,340.12 323.00,335.14 323.30,340.92 323.60,335.24 323.90,338.95 324.20,334.55 324.50,340.64 324.80,333.77 325.10,339.10 325.40,333.82 325.70,340.47 326.00,335.76 326.30,339.59 326.60,335.82 326.90,338.61 327.20,334.87 327.50,339.39 327.80,335.31 328.10,339.38 328.40,336.45 328.70,338.15 329.00,336.29 329.30,338.67 329.60,335.47 329.90,340.53 330.20,335.76 330.50,341.36 330.80,333.40 331.10,340.75 331.40,336.54 331.70,339.35 332.00,335.22 332.30,341.71 332.60,333.27 332.90,341.32 333.20,332.88 333.50,339.10 333.80,334.65 334.10,338.42 334.40,335.58 334.70,340.18 335.00,334.89 335.30,341.10 335.60,336.47 335.90,339.36 336.20,336.41 336.50,338.85 336.80,335.58 337.10,338.94 337.40,333.56 337.70,339.53 338.00,335.91 338.30,340.02 338.60,334.66 338.90,339.51 339.20,333.79 339.50,340.42 339.80,334.97 340.10,340.83 340.40,336.45 340.70,341.56 341.00,336.77 341.30,339.79 341.60,333.74 341.90,338.78 342.20,336.47 342.50,339.70 342.80,334.28 343.10,339.71 343.40,335.58 343.70,341.74 344.00,334.02 344.30,339.59 344.60,334.12 344.90,340.91 345.20,335.71 345.50,339.58 345.80,335.08 346.10,340.25 346.40,335.62 346.70,340.90 347.00,335.84 347.30,340.72 347.60,334.46 347.90,341.85 348.20,334.40 348.50,341.16 348.80,335.36 349.10,339.36 349.40,333.94 349.70,340.54 350.00,335.41 350.30,340.77 350.60,334.84 350.90,341.49 351.20,335.65 351.50,342.02 351.80,334.52 352.10,342.31 352.40,334.58 352.70,340.97 353.00,332.83 353.30,337.66 353.60,335.33 353.90,339.17 354.20,333.78 354.50,340.65 354.80,336.67 355.10,338.46 355.40,335.80 355.70,336.59 356.00,335.23 356.30,340.37 356.60,335.90 356.90,339.22 357.20,334.33 357.50,338.79 357.80,336.73 358.10,341.11 358.40,333.87 358.70,340.00 359.00,334.33 359.30,339.17 359.60,336.33 359.90,341.40 360.20,334.43 360.50,341.15 360.80,334.68 361.10,338.54 361.40,336.28 361.70,339.64 362.00,335.23 362.30,338.39 362.60,336.65 362.90,338.39 363.20,336.55 363.50,338.46 363.80,335.87 364.10,337.94 364.40,335.20 364.70,339.69 365.00,337.02 365.30,339.04 365.60,335.21 365.90,339.96 366.20,333.62 366.50,340.17 366.80,336.77 367.10,338.58 367.40,333.33 367.70,341.06 368.00,335.61 368.30,339.59 368.60,336.05 368.90,339.86 369.20,336.38 369.50,340.75 369.80,332.93 370.10,340.40 370.40,334.58 370.70,339.66 371.00,336.19 371.30,338.41 371.60,335.86 371.90,339.17 372.20,334.82 372.50,340.36 372.80,334.31 373.10,340.11 373.40,336.45 373.70,340.89 374.00,335.33 374.30,339.62 374.60,335.14 374.90,340.58 375.20,336.69 375.50,339.08 375.80,336.02 376.10,337.13 376.40,333.93 376.70,339.11 377.00,335.67 377.30,340.83 377.60,336.09 377.90,341.54 378.20,334.94 378.50,339.76 378.80,334.15 379.10,341.54 379.40,335.61 379.70,339.11 380.00,335.40 380.30,340.33 380.60,334.43 380.90,338.98 381.20,337.21 381.50,338.49 381.80,335.51 382.10,340.11 382.40,334.84 382.70,340.52 383.00,335.08 383.30,340.14 383.60,333.16 383.90,338.63 384.20,336.49 384.50,338.04 384.80,332.94 385.10,340.08 385.40,334.15 385.70,340.56 386.00,334.88 386.30,340.50 386.60,335.69 386.90,339.16 387.20,334.72 387.50,339.75 387.80,332.01 388.10,338.65 388.25,337.50 388.65,329.27 388.95,329.27 389.35,337.50 389.60,333.82 389.90,338.99 390.20,335.14 390.50,339.89 390.80,333.54 391.10,339.38 391.40,334.69 391.70,339.06 392.00,335.36 392.30,341.11 392.60,333.92 392.90,338.77 393.20,334.72 393.50,339.30 393.80,335.23 394.10,339.70 394.40,335.29 394.70,338.38 395.00,335.56 395.30,339.70 395.60,336.20 395.90,339.15 396.20,335.26 396.50,338.78 396.80,336.37 397.10,338.66 397.40,335.26 397.70,336.15 398.00,336.64 398.30,340.20 398.60,334.96 398.90,340.37 399.20,337.15 399.50,339.15 399.80,337.24 400.10,339.29 400.40,335.90 400.70,340.17 401.00,331.94 401.30,341.86 401.60,334.22 401.90,339.26 402.20,333.91 402.50,338.90 402.80,334.28 403.10,338.60 403.40,336.19 403.70,339.69 404.00,336.59 404.30,338.24 404.60,337.69 404.90,337.47 405.20,334.97 405.50,338.87 405.80,335.08 406.10,341.08 406.40,334.31 406.70,340.71 407.00,335.77 407.30,340.16 407.60,333.82 407.90,341.99 408.20,333.40 408.50,340.07 408.80,335.14 409.10,339.82 409.40,334.12 409.70,338.74 410.00,334.36 410.30,339.59 410.60,331.89 410.90,339.95 411.20,334.98 411.50,338.03 411.80,336.72 412.10,339.13 412.40,336.20 412.70,336.83 413.00,333.80 413.30,338.80 413.60,336.09 413.90,340.80 414.20,336.39 414.50,339.14 414.80,333.91 415.10,341.73 415.40,333.95 415.70,338.91 416.00,334.77 416.30,339.11 416.60,335.51 416.90,342.08 417.20,336.45 417.50,338.72 417.80,336.30 418.10,339.90 418.40,334.87 418.70,338.38 419.00,335.34 419.30,341.09 419.60,336.23 419.90,338.79 420.20,334.08 420.50,338.93 420.80,334.53 421.10,339.53 421.40,333.24 421.70,340.33 422.00,334.65 422.30,336.11 422.60,336.94 422.90,339.99 423.20,336.19 423.50,338.59 423.80,336.24 424.10,338.97 424.40,336.35 424.70,340.58 425.00,336.44 425.30,340.17 425.60,335.17 425.90,337.78 426.20,336.07 426.50,339.37 426.80,335.81 427.10,338.66 427.40,336.22 427.70,340.05 428.00,334.77 428.30,336.10 428.60,334.34 428.90,339.57 429.20,335.56 429.50,340.85 429.80,335.06 430.10,340.01 430.40,334.25 430.70,341.72 431.00,333.33 431.30,341.82 431.60,334.37 431.90,340.20 432.20,336.06 432.50,338.78 432.80,336.73 433.10,340.20 433.40,334.38 433.70,339.84 434.00,336.49 434.30,339.62 434.60,335.81 434.90,340.28 435.20,334.85 435.50,339.09 435.80,336.22 436.10,338.84 436.40,335.88 436.70,339.54 437.00,335.24 437.30,339.82 437.60,334.56 437.90,340.75 438.20,335.19 438.50,336.20 438.80,336.28 439.10,340.25 439.40,336.49 439.70,338.25 440.00,332.11 440.30,338.89 440.60,336.01 440.90,338.95 441.20,336.16 441.50,340.58 441.80,336.71 442.10,338.77 442.40,335.68 442.70,340.91 443.00,336.55 443.30,341.07 443.60,332.61 443.90,339.39 444.20,333.09 444.50,342.03 444.80,334.45 445.10,341.01 445.40,332.05 445.70,341.19 446.00,333.32 446.30,341.38 446.60,336.25 446.90,341.74 447.20,336.17 447.50,340.76 447.80,334.28 448.10,339.95 448.40,334.63 448.70,339.76 449.00,336.53 449.30,339.36 449.60,335.36 449.90,338.69 450.20,335.02 450.50,338.61 450.80,336.56 451.10,338.95 451.40,335.92 451.70,340.20 452.00,334.59 452.30,338.25 452.60,334.07 452.90,340.21 453.20,335.35 453.50,339.70 453.80,336.26 454.10,339.57 454.40,336.48 454.70,339.77 455.00,335.02 455.30,339.08 455.60,333.54 455.90,341.17 456.20,335.44 456.50,339.41 456.80,336.64 457.10,341.38 457.40,336.11 457.70,339.29 458.00,334.93 458.30,338.95 458.60,336.09 458.85,337.50 459.25,329.27 459.55,329.27 459.95,337.50 460.10,337.82 460.40,336.79 460.70,339.62 461.00,335.35 461.30,342.16 461.60,333.29 461.90,339.01 462.20,335.80 462.50,339.07 462.80,333.86 463.10,340.66 463.40,336.15 463.70,339.87 464.00,335.12 464.30,340.85 464.60,336.31 464.90,339.88 465.20,335.42 465.50,339.81 465.80,335.94 466.10,335.94 466.40,334.28 466.70,340.79 467.00,336.14 467.30,339.05 467.60,336.25 467.90,340.41 468.20,335.02 468.50,339.13 468.80,334.89 469.10,338.61 469.40,334.89 469.70,341.92 470.00,334.41 470.30,341.64 470.60,333.93 470.90,342.23 471.20,335.43 471.50,341.49 471.80,334.69 472.10,339.88 472.40,336.66 472.70,340.24 473.00,335.86 473.30,339.62 473.60,335.95 473.90,339.57 474.20,334.30 474.50,338.09 474.80,334.89 475.10,339.22 475.40,335.73 475.70,338.88 476.00,334.46 476.30,338.76 476.60,335.02 476.90,339.05 477.20,335.46 477.50,339.15 477.80,336.71 478.10,339.85 478.40,336.06 478.70,338.38 479.00,336.42 479.30,339.35 479.60,335.53 479.90,338.68 480.20,336.41 480.50,339.09 480.80,333.69 481.10,340.04 481.40,336.88 481.70,338.78 482.00,335.37 482.30,339.70 482.60,336.33 482.90,338.84 483.20,334.57 483.50,340.87 483.80,336.38 484.10,340.51 484.40,335.77 484.70,339.92 485.00,336.70 485.30,338.76 485.60,335.52 485.90,339.55 486.20,335.83 486.50,340.13 486.80,335.05 487.10,339.22 487.40,333.54 487.70,340.99 488.00,333.12 488.30,340.94 488.60,335.68 488.90,342.75 489.20,335.95 489.50,338.90 489.80,334.69 490.10,338.76 490.40,336.19 490.70,340.39 491.00,333.92 491.30,340.29 491.60,335.17 491.90,338.21 492.20,334.22 492.50,340.62 492.80,334.99 493.10,339.07 493.40,333.75 493.70,339.97 494.00,334.57 494.30,340.26 494.60,334.50 494.90,338.93 495.20,335.74 495.50,338.74 495.80,335.93 496.10,338.04 496.40,335.88 496.70,340.53 497.00,333.00 497.30,340.08 497.60,335.40 497.90,339.93 498.20,333.63 498.50,340.50 498.80,335.76 499.10,340.92 499.40,334.85 499.70,340.08 500.00,333.40 500.30,341.17 500.60,336.09 500.90,342.47 501.20,334.47 501.50,339.08 501.80,333.92 502.10,339.65 502.40,335.51 502.70,339.75 503.00,336.24 503.30,340.16 503.60,335.76 503.90,339.66 504.20,335.64 504.50,338.16 504.80,334.11 505.10,340.35 505.40,335.40 505.70,341.03 506.00,334.24"/>
<g stroke="#2a2a2a" stroke-width="1.50" fill="none" stroke-linecap="square"><path d="M66.7 7.6 H506.3 V167.0 H66.7"/></g><path d="M66.7 7.6 V167.0" stroke="#2f3430" stroke-width="1.50" stroke-linecap="square"/><path d="M60.2 167.0 H66.7 M60.2 144.2 H66.7 M60.2 121.5 H66.7 M60.2 98.7 H66.7 M60.2 75.9 H66.7 M60.2 53.1 H66.7 M60.2 30.4 H66.7 M60.2 7.6 H66.7 M63.5 155.6 H66.7 M63.5 132.8 H66.7 M63.5 110.1 H66.7 M63.5 87.3 H66.7 M63.5 64.5 H66.7 M63.5 41.8 H66.7 M63.5 19.0 H66.7" stroke="#2f3430" stroke-width="1.3"/><path d="M115.5 167.0 V173.6 M180.7 167.0 V173.6 M245.8 167.0 V173.6 M310.9 167.0 V173.6 M376.0 167.0 V173.6 M441.2 167.0 V173.6 M506.3 167.0 V173.6 M83.0 167.0 V170.2 M148.1 167.0 V170.2 M213.2 167.0 V170.2 M278.4 167.0 V170.2 M343.5 167.0 V170.2 M408.6 167.0 V170.2 M473.7 167.0 V170.2" stroke="#2a2a2a" stroke-width="1.3"/>
<text class="k" x="55.4" y="171.4" font-size="15" text-anchor="end">0</text><text class="k" x="55.4" y="148.6" font-size="15" text-anchor="end">1</text><text class="k" x="55.4" y="125.9" font-size="15" text-anchor="end">2</text><text class="k" x="55.4" y="103.1" font-size="15" text-anchor="end">3</text><text class="k" x="55.4" y="80.3" font-size="15" text-anchor="end">4</text><text class="k" x="55.4" y="57.5" font-size="15" text-anchor="end">5</text><text class="k" x="55.4" y="34.8" font-size="15" text-anchor="end">6</text><text class="k" x="55.4" y="12.0" font-size="15" text-anchor="end">7</text><text class="k" x="115.8" y="190.2" font-size="15" text-anchor="middle">140</text><text class="k" x="181.0" y="190.2" font-size="15" text-anchor="middle">160</text><text class="k" x="246.1" y="190.2" font-size="15" text-anchor="middle">180</text><text class="k" x="311.2" y="190.2" font-size="15" text-anchor="middle">200</text><text class="k" x="376.3" y="190.2" font-size="15" text-anchor="middle">220</text><text class="k" x="441.5" y="190.2" font-size="15" text-anchor="middle">240</text><text class="k" x="506.6" y="190.2" font-size="15" text-anchor="middle">260</text>
<g stroke="#2a2a2a" stroke-width="1.50" fill="none" stroke-linecap="square"><path d="M65.6 199.6 H505.5 V359.2 H65.6"/></g><path d="M65.6 199.6 V359.2" stroke="#6e6450" stroke-width="1.50" stroke-linecap="square"/><path d="M58.6 359.2 H65.6 M58.6 292.7 H65.6 M58.6 226.2 H65.6 M62.4 325.9 H65.6 M62.4 259.4 H65.6" stroke="#4a4438" stroke-width="1.3"/><path d="M114.5 359.2 V365.8 M179.6 359.2 V365.8 M244.8 359.2 V365.8 M310.0 359.2 V365.8 M375.2 359.2 V365.8 M440.3 359.2 V365.8 M505.5 359.2 V365.8 M81.9 359.2 V362.4 M147.1 359.2 V362.4 M212.2 359.2 V362.4 M277.4 359.2 V362.4 M342.6 359.2 V362.4 M407.7 359.2 V362.4 M472.9 359.2 V362.4" stroke="#2a2a2a" stroke-width="1.3"/>
<text class="k" x="54.3" y="363.6" font-size="15" text-anchor="end">0.0</text><text class="k" x="54.3" y="297.1" font-size="15" text-anchor="end">0.5</text><text class="k" x="54.3" y="230.6" font-size="15" text-anchor="end">1.0</text><text class="k" x="114.2" y="382.4" font-size="15" text-anchor="middle">140</text><text class="k" x="179.3" y="382.4" font-size="15" text-anchor="middle">160</text><text class="k" x="244.5" y="382.4" font-size="15" text-anchor="middle">180</text><text class="k" x="309.7" y="382.4" font-size="15" text-anchor="middle">200</text><text class="k" x="374.9" y="382.4" font-size="15" text-anchor="middle">220</text><text class="k" x="440.0" y="382.4" font-size="15" text-anchor="middle">240</text><text class="k" x="505.2" y="382.4" font-size="15" text-anchor="middle">260</text>
<text class="c" x="108.46" y="26.70" font-size="12" letter-spacing="0.55"><tspan dy="0.00" font-size="12">SO</tspan><tspan dy="5.60" font-size="9.6" stroke-width="0.1">2</tspan><tspan dy="-5.60" font-size="12">Cl</tspan><tspan dy="3.40" font-size="9.6" stroke-width="0.1">2</tspan><tspan dy="-8.00" font-size="6.8" font-weight="bold">+</tspan></text>
<text class="c" x="108.46" y="53.60" font-size="12" letter-spacing="0.55"><tspan dy="0.00" font-size="12">SOFCl</tspan><tspan dy="3.40" font-size="9.6" stroke-width="0.1">2</tspan><tspan dy="-8.00" font-size="6.8" font-weight="bold">+</tspan></text>
<text class="c" x="108.46" y="77.90" font-size="12" letter-spacing="0.55"><tspan dy="0.00" font-size="12">SOF</tspan><tspan dy="3.40" font-size="9.6" stroke-width="0.1">3</tspan><tspan dy="-3.40" font-size="12">Cl</tspan><tspan dy="-4.60" font-size="6.8" font-weight="bold">+</tspan></text>
<text class="c" x="80.16" y="44.10" font-size="12" letter-spacing="0.55"><tspan dy="0.00" font-size="12">S</tspan><tspan dy="3.00" font-size="9" stroke-width="0.1">4</tspan><tspan dy="-7.60" font-size="6.8" font-weight="bold">+</tspan></text>
<text class="c" x="173.46" y="70.90" font-size="12" letter-spacing="0.55"><tspan dy="0.00" font-size="12">SOF</tspan><tspan dy="3.40" font-size="9.6" stroke-width="0.1">2</tspan><tspan dy="-3.40" font-size="12">Cl</tspan><tspan dy="3.40" font-size="9.6" stroke-width="0.1">2</tspan><tspan dy="-8.00" font-size="6.8" font-weight="bold">+</tspan></text>
<text class="c" x="177.56" y="90.00" font-size="12" letter-spacing="0.55"><tspan dy="0.00" font-size="12">S</tspan><tspan dy="3.00" font-size="9" stroke-width="0.1">5</tspan><tspan dy="-7.60" font-size="6.8" font-weight="bold">+</tspan></text>
<text class="c" x="208.96" y="113.30" font-size="12" letter-spacing="0.55"><tspan dy="0.00" font-size="12">SOFCl</tspan><tspan dy="3.40" font-size="9.6" stroke-width="0.1">3</tspan><tspan dy="-8.00" font-size="6.8" font-weight="bold">+</tspan></text>
<text class="c" x="279.46" y="115.60" font-size="12" letter-spacing="0.55"><tspan dy="0.00" font-size="12">S</tspan><tspan dy="3.00" font-size="9" stroke-width="0.1">6</tspan><tspan dy="-7.60" font-size="6.8" font-weight="bold">+</tspan></text>
<text class="c" x="391.86" y="131.90" font-size="12" letter-spacing="0.55"><tspan dy="0.00" font-size="12">S</tspan><tspan dy="3.00" font-size="9" stroke-width="0.1">7</tspan><tspan dy="-7.60" font-size="6.8" font-weight="bold">+</tspan></text>
<text class="c" x="475.26" y="139.20" font-size="12" letter-spacing="0.55"><tspan dy="0.00" font-size="12">S</tspan><tspan dy="3.00" font-size="9" stroke-width="0.1">8</tspan><tspan dy="-7.60" font-size="6.8" font-weight="bold">+</tspan></text>
<text class="c" x="107.56" y="217.10" font-size="12" letter-spacing="0.55"><tspan dy="0.00" font-size="12">SO</tspan><tspan dy="5.60" font-size="9.6" stroke-width="0.1">2</tspan><tspan dy="-5.60" font-size="12">Cl</tspan><tspan dy="3.40" font-size="9.6" stroke-width="0.1">2</tspan><tspan dy="-8.00" font-size="6.8" font-weight="bold">+</tspan></text>
<text class="c" x="107.56" y="244.30" font-size="12" letter-spacing="0.55"><tspan dy="0.00" font-size="12">SOFCl</tspan><tspan dy="3.40" font-size="9.6" stroke-width="0.1">2</tspan><tspan dy="-8.00" font-size="6.8" font-weight="bold">+</tspan></text>
<text class="c" x="107.56" y="267.10" font-size="12" letter-spacing="0.55"><tspan dy="0.00" font-size="12">SOF</tspan><tspan dy="3.40" font-size="9.6" stroke-width="0.1">3</tspan><tspan dy="-3.40" font-size="12">Cl</tspan><tspan dy="-4.60" font-size="6.8" font-weight="bold">+</tspan></text>
<text class="c" x="79.86" y="241.70" font-size="12" letter-spacing="0.55"><tspan dy="0.00" font-size="12">S</tspan><tspan dy="3.00" font-size="9" stroke-width="0.1">4</tspan><tspan dy="-7.60" font-size="6.8" font-weight="bold">+</tspan></text>
<text class="c" x="172.96" y="262.20" font-size="12" letter-spacing="0.55"><tspan dy="0.00" font-size="12">SOF</tspan><tspan dy="3.40" font-size="9.6" stroke-width="0.1">2</tspan><tspan dy="-3.40" font-size="12">Cl</tspan><tspan dy="3.40" font-size="9.6" stroke-width="0.1">2</tspan><tspan dy="-8.00" font-size="6.8" font-weight="bold">+</tspan></text>
<text class="c" x="176.76" y="289.30" font-size="12" letter-spacing="0.55"><tspan dy="0.00" font-size="12">S</tspan><tspan dy="3.00" font-size="9" stroke-width="0.1">5</tspan><tspan dy="-7.60" font-size="6.8" font-weight="bold">+</tspan></text>
<text class="c" x="212.13" y="296.60" font-size="12" letter-spacing="0.55"><tspan dy="0.00" font-size="12">Trace</tspan></text>
<text class="c" x="211.46" y="318.60" font-size="12" letter-spacing="0.55"><tspan dy="0.00" font-size="12">SOFCl</tspan><tspan dy="3.40" font-size="9.6" stroke-width="0.1">3</tspan><tspan dy="-8.00" font-size="6.8" font-weight="bold">+</tspan></text>
<text class="c" x="280.06" y="284.80" font-size="12" letter-spacing="0.55"><tspan dy="0.00" font-size="12">S</tspan><tspan dy="3.00" font-size="9" stroke-width="0.1">6</tspan><tspan dy="-7.60" font-size="6.8" font-weight="bold">+</tspan></text>
<text class="c" x="366.63" y="319.10" font-size="12" letter-spacing="0.55"><tspan dy="0.00" font-size="12">Trace S</tspan><tspan dy="3.00" font-size="9" stroke-width="0.1">7</tspan><tspan dy="-7.60" font-size="6.8" font-weight="bold">+</tspan></text>
<text class="c" x="456.22" y="320.00" font-size="12" letter-spacing="0.55"><tspan dy="0.00" font-size="12">No S</tspan><tspan dy="3.00" font-size="9" stroke-width="0.1">8</tspan><tspan dy="-7.60" font-size="6.8" font-weight="bold">+</tspan></text>
<g transform="matrix(1,0,0,1.07,0,-2.240)"><text class="t"><tspan x="351.13" y="32.00" font-size="20.5">a</tspan><tspan x="365.68" y="32.00" font-size="20.5">) </tspan><tspan x="378.77" y="32.00" font-size="20.5">S</tspan><tspan x="394.42" y="32.00" font-size="20.5">F</tspan><tspan x="408.06" y="36.60" font-size="15">4 </tspan><tspan x="422.34" y="32.00" font-size="20.5">o</tspan><tspan x="435.44" y="32.00" font-size="20.5">n </tspan><tspan x="455.41" y="32.00" font-size="20.5">V</tspan><tspan x="470.93" y="32.00" font-size="20.5">O</tspan><tspan x="488.15" y="36.60" font-size="15">2</tspan></text></g>
<g transform="matrix(1,0,0,1.07,0,-15.750)"><text class="t"><tspan x="344.18" y="225.00" font-size="20.5">b</tspan><tspan x="358.08" y="225.00" font-size="20.5">) </tspan><tspan x="370.87" y="225.00" font-size="20.5">S</tspan><tspan x="386.22" y="225.00" font-size="20.5">F</tspan><tspan x="400.26" y="229.40" font-size="15">4 </tspan><tspan x="415.94" y="225.00" font-size="20.5">o</tspan><tspan x="427.94" y="225.00" font-size="20.5">n </tspan><tspan x="447.61" y="225.00" font-size="20.5">V</tspan><tspan x="461.65" y="229.40" font-size="15">2</tspan><tspan x="470.63" y="225.00" font-size="20.5">O</tspan><tspan x="488.60" y="229.40" font-size="15">5</tspan></text></g>
<text transform="translate(18.6,189.1) rotate(-90)" font-size="23.3" font-weight="bold" text-anchor="middle" fill="#000">Intensity (mV)</text>
<text transform="translate(281.0,409.0) scale(1,0.9)" font-size="23" font-weight="bold" text-anchor="middle" fill="#000">m/z</text>
</svg>
</body></html>
